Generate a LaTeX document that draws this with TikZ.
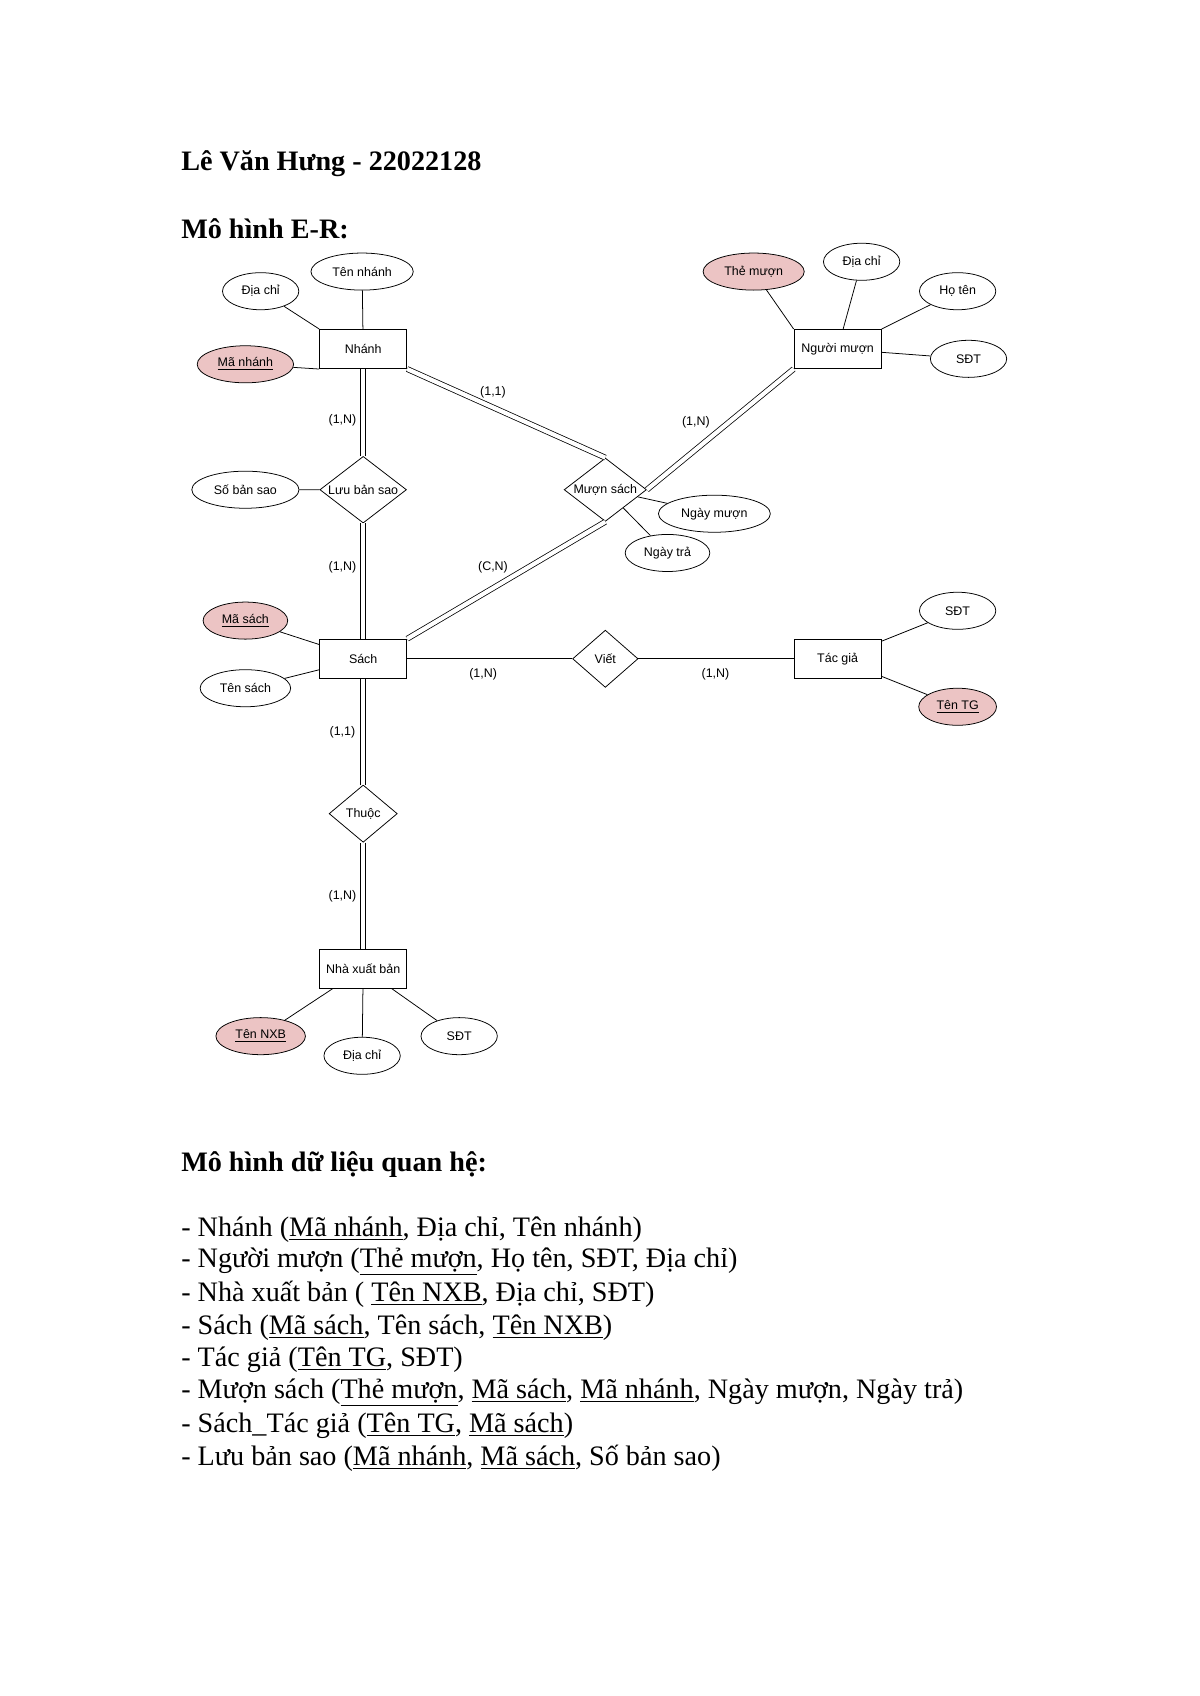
\documentclass[tikz,border=0pt]{standalone}
\usepackage{fontspec}
\setmainfont{Liberation Serif}
\newfontfamily\diagfont{Liberation Sans}
\usetikzlibrary{shapes.geometric}
\definecolor{keypink}{RGB}{236,196,196}
\tikzset{
  ent/.style={draw,rectangle,minimum width=1.6cm,minimum height=0.72cm,font=\diagfont\fontsize{6.5}{7}\selectfont},
  rel/.style={draw,diamond,aspect=1.3,inner sep=0.5pt,font=\diagfont\fontsize{6.5}{7}\selectfont},
  attr/.style={draw,ellipse,minimum width=1.4cm,minimum height=0.68cm,font=\diagfont\fontsize{6.5}{7}\selectfont},
  key/.style={attr,fill=keypink},
  dbl/.style={double,double distance=2.2pt},
  card/.style={font=\diagfont\fontsize{6.5}{7}\selectfont},
  body/.style={anchor=west,font=\fontsize{14.7}{17}\selectfont},
  head/.style={body,font=\bfseries\fontsize{14.7}{17}\selectfont}
}
\begin{document}
\begin{tikzpicture}[x=0.02cm,y=-0.02cm]
    \useasboundingbox (0,0) rectangle (1100,1555);
    
    %Headings
    \node[head] (title) at (160,150) {Lê Văn Hưng - 22022128};
    \node[head] (erhead) at (160,210) {Mô hình E-R:};
    
    %Entities
    \node[ent] (nhanh) at (333,320) {Nhánh};
    \node[ent] (nguoi) at (768,320) {Người mượn};
    \node[ent] (sach) at (333,604) {Sách};
    \node[ent] (tacgia) at (768,604) {Tác giả};
    \node[ent] (nxb) at (333,888) {Nhà xuất bản};
    %Relationships
    \node[rel] (luu) at (333,449) {Lưu bản sao};
    \node[rel,minimum width=1.2cm,minimum height=1.1cm] (muon) at (555,449) {Mượn sách};
    \node[rel,minimum width=1.2cm,minimum height=1.05cm] (viet) at (555,604) {Viết};
    \node[rel,minimum width=1.25cm,minimum height=1.05cm] (thuoc) at (333,746) {Thuộc};
    
    %Attributes
    \node[attr] (nhdiachi) at (239,267) {Địa chỉ};
    \node[attr] (nhten) at (332,249) {Tên nhánh};
    \node[key] (nhma) at (225,334) {\underline{Mã nhánh}};
    \node[key] (nmthe) at (691,249) {Thẻ mượn};
    \node[attr] (nmdiachi) at (790,240) {Địa chỉ};
    \node[attr] (nmhoten) at (878,267) {Họ tên};
    \node[attr] (nmsdt) at (888,329) {SĐT};
    \node[attr] (sobansao) at (225,449) {Số bản sao};
    \node[attr] (ngaymuon) at (655,471) {Ngày mượn};
    \node[attr] (ngaytra) at (612,507) {Ngày trả};
    \node[key] (masach) at (225,569) {\underline{Mã sách}};
    \node[attr] (tensach) at (225,631) {Tên sách};
    \node[attr] (tgsdt) at (878,560) {SĐT};
    \node[key] (tentg) at (878,648) {\underline{Tên TG}};
    \node[key] (tennxb) at (239,950) {\underline{Tên NXB}};
    \node[attr] (nxbdiachi) at (332,968) {Địa chỉ};
    \node[attr] (nxbsdt) at (421,950) {SĐT};
    
    %Links
    \draw[dbl] (nhanh) -- (luu) -- (sach);
    \draw[dbl] (nhanh.south east) -- (muon.north);
    \draw[dbl] (nguoi.south west) -- (muon.east);
    \draw[dbl] (muon.south) -- (sach.north east);
    \draw[dbl] (sach) -- (thuoc) -- (nxb);
    \draw (sach) -- (viet) -- (tacgia);
    \draw (nhdiachi) -- (nhanh.north west) (nhten) -- (nhanh) (nhma) -- (nhanh.south west);
    \draw (nmthe) -- (nguoi.north west) (nmdiachi) -- (nguoi) (nmhoten) -- (nguoi.north east) (nmsdt) -- (nguoi);
    \draw (sobansao) -- (luu) (ngaymuon) -- (muon) (ngaytra) -- (muon);
    \draw (masach) -- (sach) (tensach) -- (sach);
    \draw (tgsdt) -- (tacgia) (tentg) -- (tacgia);
    \draw (tennxb) -- (nxb) (nxbdiachi) -- (nxb) (nxbsdt) -- (nxb);
    
    %Cardinalities
    \node[card] (c1) at (452,360) {(1,1)};
    \node[card] (c2) at (314,385) {(1,N)};
    \node[card] (c3) at (638,387) {(1,N)};
    \node[card] (c4) at (314,520) {(1,N)};
    \node[card] (c5) at (452,520) {(C,N)};
    \node[card] (c6) at (443,618) {(1,N)};
    \node[card] (c7) at (656,618) {(1,N)};
    \node[card] (c8) at (314,671) {(1,1)};
    \node[card] (c9) at (314,822) {(1,N)};
    
    %Relational model
    \node[head] (relhead) at (160,1068) {Mô hình dữ liệu quan hệ:};
    \node[body] (r1) at (160,1127) {- Nhánh (\underline{Mã nhánh}, Địa chỉ, Tên nhánh)};
    \node[body] (r2) at (160,1157) {- Người mượn (\underline{Thẻ mượn}, Họ tên, SĐT, Địa chỉ)};
    \node[body] (r3) at (160,1187) {- Nhà xuất bản ( \underline{Tên NXB}, Địa chỉ, SĐT)};
    \node[body] (r4) at (160,1217) {- Sách (\underline{Mã sách}, Tên sách, \underline{Tên NXB})};
    \node[body] (r5) at (160,1247) {- Tác giả (\underline{Tên TG}, SĐT)};
    \node[body] (r6) at (160,1277) {- Mượn sách (\underline{Thẻ mượn}, \underline{Mã sách}, \underline{Mã nhánh}, Ngày mượn, Ngày trả)};
    \node[body] (r7) at (160,1307) {- Sách\_Tác giả (\underline{Tên TG}, \underline{Mã sách})};
    \node[body] (r8) at (160,1337) {- Lưu bản sao (\underline{Mã nhánh}, \underline{Mã sách}, Số bản sao)};
\end{tikzpicture}
\end{document}
